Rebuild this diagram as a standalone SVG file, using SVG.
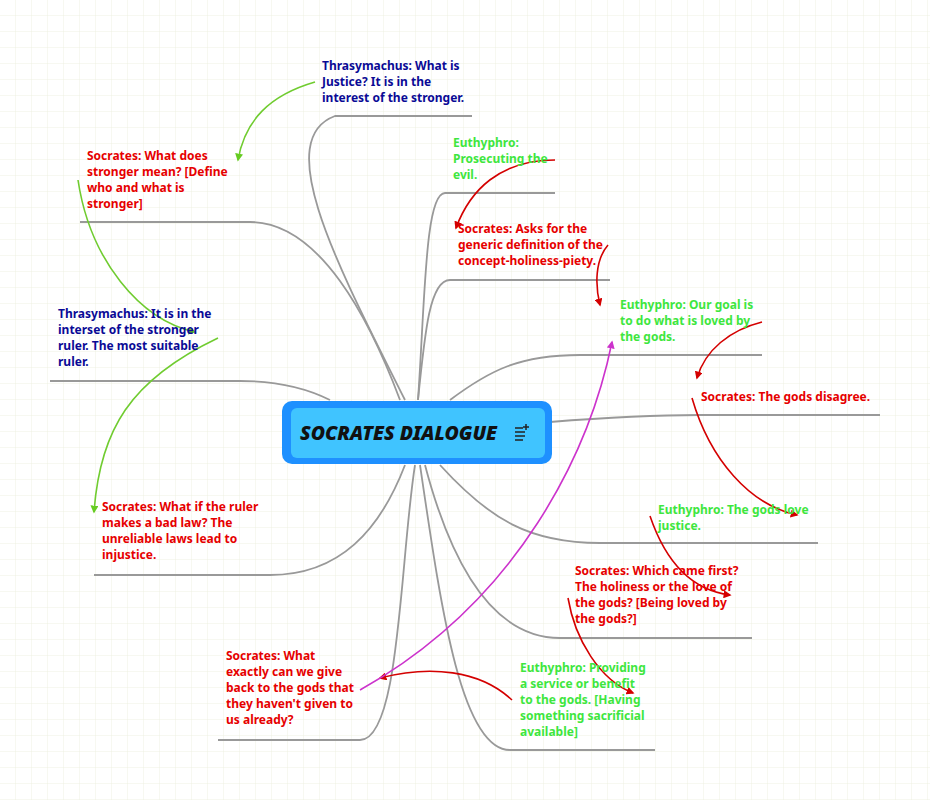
<svg xmlns="http://www.w3.org/2000/svg" width="930" height="800" viewBox="0 0 930 800">
<defs>
<pattern id="g" width="16" height="16" patternUnits="userSpaceOnUse"><path d="M16 0V16H0" fill="none" stroke="#eef0e2" stroke-width="1"/></pattern>
<marker id="ar" viewBox="0 0 10 10" refX="8" refY="5" markerWidth="5" markerHeight="5" orient="auto"><path d="M0 0L10 5L0 10z" fill="#d40000"/></marker>
<marker id="ag" viewBox="0 0 10 10" refX="8" refY="5" markerWidth="5" markerHeight="5" orient="auto"><path d="M0 0L10 5L0 10z" fill="#66cc22"/></marker>
<marker id="am" viewBox="0 0 10 10" refX="8" refY="5" markerWidth="5" markerHeight="5" orient="auto"><path d="M0 0L10 5L0 10z" fill="#cc33cc"/></marker>
</defs>
<style>
text{font-family:"Noto Sans","Liberation Sans",sans-serif;font-weight:bold;font-size:12px}
.r{fill:#e60000}.b{fill:#0a0a96}.gr{fill:#3ee63e}
.l{fill:none;stroke:#999;stroke-width:1.8}
.ra{fill:none;stroke:#d40000;stroke-width:1.6;marker-end:url(#ar)}
.ga{fill:none;stroke:#70cc30;stroke-width:1.6;marker-end:url(#ag)}
.ma{fill:none;stroke:#cc33cc;stroke-width:1.6;marker-end:url(#am)}
</style>
<rect width="930" height="800" fill="#fff"/>
<rect width="930" height="800" fill="url(#g)"/>
<g id="connectors">
<path class="l" d="M405 400C340 270 270 140 335 116H472"/>
<path class="l" d="M400 400C370 320 320 222 250 222H80"/>
<path class="l" d="M330 400C300 385 270 381 240 381H50"/>
<path class="l" d="M405 465C380 530 340 575 270 575H94"/>
<path class="l" d="M415 465C400 560 400 740 360 740H218"/>
<path class="l" d="M418 400C425 300 425 193 445 193H555"/>
<path class="l" d="M418 400C425 330 430 280 450 280H610"/>
<path class="l" d="M450 400C490 370 520 355 580 355H762"/>
<path class="l" d="M550 422C600 418 650 415 700 415H880"/>
<path class="l" d="M440 465C490 520 530 543 600 543H818"/>
<path class="l" d="M425 465C450 560 490 638 560 638H752"/>
<path class="l" d="M420 465C440 600 460 750 510 750H655"/>
<path class="ga" d="M315 82C270 95 245 120 238 160"/>
<path class="ga" d="M78 180C90 260 140 320 195 332"/>
<path class="ga" d="M218 338C130 380 100 430 94 512"/>
<path class="ra" d="M555 160C500 160 470 190 456 228"/>
<path class="ra" d="M608 245C595 260 595 285 600 305"/>
<path class="ra" d="M762 322C730 330 705 350 697 378"/>
<path class="ra" d="M692 398C710 460 750 505 797 515"/>
<path class="ra" d="M650 516C665 560 690 590 730 595"/>
<path class="ra" d="M568 598C575 640 600 680 633 693"/>
<path class="ra" d="M512 700C480 670 430 665 380 678"/>
<path class="ma" d="M360 690C520 600 590 450 612 342"/>
</g>
<g id="center">
<rect x="282" y="401" width="270" height="63" rx="10" fill="#1e90ff"/>
<rect x="291" y="408" width="254" height="50" rx="6" fill="#40c4ff"/>
<text x="300" y="440" style="font-size:19.5px;font-style:italic;font-weight:900" fill="#111">SOCRATES DIALOGUE</text>
<path d="M515 428h8M515 432h10M515 436h10M515 440h8M526 424v6M523 427h6" stroke="#222" stroke-width="1.5"/>
</g>
<g id="n1"><text class="b" x="322" y="70">Thrasymachus: What is<tspan x="322" dy="16">Justice? It is in the</tspan><tspan x="322" dy="16">interest of the stronger.</tspan></text></g>
<g id="n2"><text class="r" x="87" y="160">Socrates: What does<tspan x="87" dy="16">stronger mean? [Define</tspan><tspan x="87" dy="16">who and what is</tspan><tspan x="87" dy="16">stronger]</tspan></text></g>
<g id="n3"><text class="b" x="58" y="318">Thrasymachus: It is in the<tspan x="58" dy="16">interset of the stronger</tspan><tspan x="58" dy="16">ruler. The most suitable</tspan><tspan x="58" dy="16">ruler.</tspan></text></g>
<g id="n4"><text class="r" x="102" y="511">Socrates: What if the ruler<tspan x="102" dy="16">makes a bad law? The</tspan><tspan x="102" dy="16">unreliable laws lead to</tspan><tspan x="102" dy="16">injustice.</tspan></text></g>
<g id="n5"><text class="r" x="226" y="660">Socrates: What<tspan x="226" dy="16">exactly can we give</tspan><tspan x="226" dy="16">back to the gods that</tspan><tspan x="226" dy="16">they haven't given to</tspan><tspan x="226" dy="16">us already?</tspan></text></g>
<g id="n6"><text class="gr" x="453" y="147">Euthyphro:<tspan x="453" dy="16">Prosecuting the</tspan><tspan x="453" dy="16">evil.</tspan></text></g>
<g id="n7"><text class="r" x="458" y="233">Socrates: Asks for the<tspan x="458" dy="16">generic definition of the</tspan><tspan x="458" dy="16">concept-holiness-piety.</tspan></text></g>
<g id="n8"><text class="gr" x="620" y="309">Euthyphro: Our goal is<tspan x="620" dy="16">to do what is loved by</tspan><tspan x="620" dy="16">the gods.</tspan></text></g>
<g id="n9"><text class="r" x="701" y="401">Socrates: The gods disagree.</text></g>
<g id="n10"><text class="gr" x="658" y="514">Euthyphro: The gods love<tspan x="658" dy="16">justice.</tspan></text></g>
<g id="n11"><text class="r" x="575" y="575">Socrates: Which came first?<tspan x="575" dy="16">The holiness or the love of</tspan><tspan x="575" dy="16">the gods? [Being loved by</tspan><tspan x="575" dy="16">the gods?]</tspan></text></g>
<g id="n12"><text class="gr" x="520" y="672">Euthyphro: Providing<tspan x="520" dy="16">a service or benefit</tspan><tspan x="520" dy="16">to the gods. [Having</tspan><tspan x="520" dy="16">something sacrificial</tspan><tspan x="520" dy="16">available]</tspan></text></g>
</svg>
